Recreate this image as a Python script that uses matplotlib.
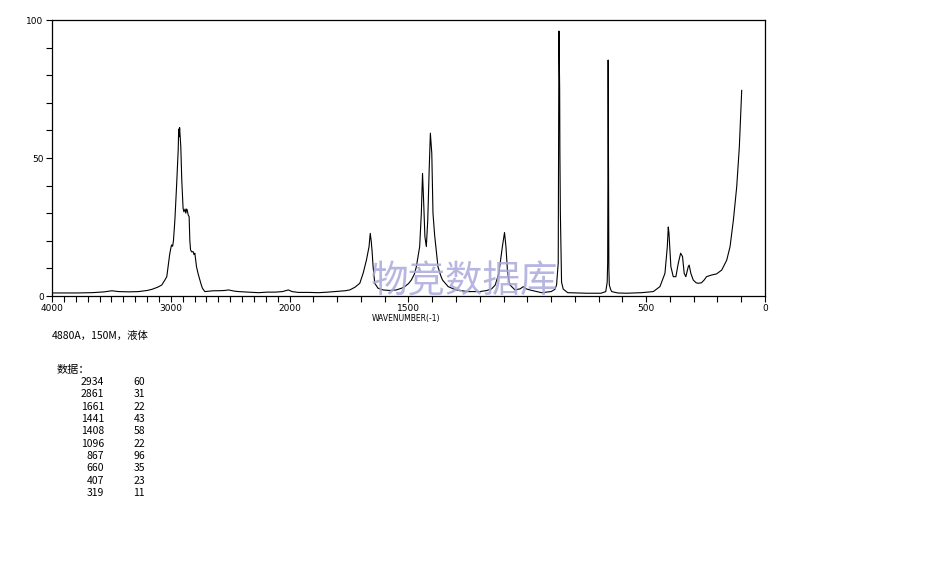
import numpy as np
import matplotlib
matplotlib.use('Agg')
import matplotlib.pyplot as plt
from matplotlib.ticker import FixedLocator, NullFormatter

plt.rcParams['font.family'] = ['Noto Sans CJK SC', 'DejaVu Sans']

# spectrum trace (wavenumber, intensity)
wavenumber = [4000, 3800, 3664, 3560, 3496, 3440, 3350, 3272, 3200, 3160, 3110, 3076, 3050, 3034,
              3023, 3010, 3003, 2994, 2985, 2978, 2966, 2952, 2938, 2934, 2930, 2926, 2922, 2916,
              2908, 2897, 2890, 2880, 2874, 2867, 2861, 2855, 2846, 2840, 2834, 2825, 2813, 2805,
              2798, 2790, 2784, 2770, 2756, 2745, 2734, 2714, 2690, 2640, 2599, 2546, 2515, 2470,
              2431, 2350, 2263, 2190, 2123, 2060, 2011, 1990, 1963, 1920, 1879, 1840, 1809, 1767,
              1747, 1725, 1705, 1691, 1677, 1666, 1661, 1657, 1653, 1649, 1642, 1628, 1607, 1580,
              1551, 1530, 1516, 1500, 1488, 1475, 1467, 1453, 1446, 1441, 1436, 1431, 1425, 1419,
              1413, 1408, 1402, 1397, 1390, 1385, 1376, 1365, 1357, 1333, 1300, 1250, 1200, 1170,
              1150, 1135, 1120, 1105, 1096, 1090, 1083, 1073, 1052, 1030, 1017, 1005, 990, 940,
              900, 884, 877, 870, 867, 864, 863, 861, 856, 849, 830, 750, 690, 670, 664, 662, 661,
              660, 659, 658.5, 657, 655, 650, 645, 620, 583, 520, 470, 442, 421, 411, 407, 404,
              396, 386, 375, 365, 355, 347, 340, 333, 323, 319, 312, 302, 290, 281, 267, 256, 246,
              225, 204, 182, 161, 147, 133, 119, 108, 98]
intensity = [1.1, 1.1, 1.2, 1.5, 1.9, 1.6, 1.5, 1.6, 2.0, 2.4, 3.2, 4.0, 5.8, 7.0,
             10.6, 15.0, 16.7, 18.5, 18.0, 20.0, 27.5, 39.6, 52.9, 60.5, 57.7, 61.0, 58.0, 54.0,
             42.0, 31.8, 30.5, 31.5, 30.0, 31.5, 31.0, 29.5, 28.7, 20.0, 16.7, 16.0, 16.1, 15.0,
             15.5, 12.5, 10.6, 8.0, 5.8, 4.2, 2.8, 1.6, 1.7, 1.9, 1.9, 2.0, 2.2, 1.8,
             1.6, 1.4, 1.2, 1.4, 1.4, 1.6, 2.2, 1.6, 1.3, 1.3, 1.2, 1.4, 1.6, 1.9,
             2.2, 3.2, 4.6, 8.2, 13.0, 17.9, 22.7, 20.0, 16.0, 10.6, 4.6, 2.8, 2.2, 2.0,
             2.2, 2.8, 3.4, 4.5, 5.8, 8.0, 10.6, 17.9, 30.0, 44.4, 33.6, 21.5, 17.9, 27.5,
             45.7, 59.0, 51.7, 30.0, 22.0, 17.9, 10.6, 7.5, 5.8, 3.4, 2.2, 1.6, 1.6, 2.0,
             2.6, 4.0, 8.2, 17.9, 23.0, 17.9, 8.2, 4.0, 2.2, 2.6, 3.4, 2.6, 2.2, 1.2,
             1.6, 2.4, 4.0, 12.0, 96.0, 75.0, 52.0, 30.0, 5.0, 2.5, 1.2, 1.0, 1.0, 1.6, 5.0, 12.0, 40.0,
             85.5, 60.0, 42.0, 10.0, 4.0, 2.5, 1.6, 1.1, 1.0, 1.2, 1.6, 3.4, 8.2, 17.9, 25.0, 22.7,
             10.6, 7.0, 7.0, 11.8, 15.5, 14.3, 8.2, 7.0, 10.6, 11.2, 8.2, 5.8, 4.8, 4.6, 4.8, 5.8, 7.0,
             7.6, 8.0, 9.4, 13.0, 17.9, 27.5, 39.6, 54.0, 74.5]

# peak table
peak_wn = [2934, 2861, 1661, 1441, 1408, 1096, 867, 660, 407, 319]
peak_int = [60, 31, 22, 43, 58, 22, 96, 35, 23, 11]

x_major = [4000, 3000, 2000, 1500, 500, 0]
y_major = [0, 50, 100]


# 4000-2000 compressed to half the width of 2000-0
def fwd(x):
    x = np.asarray(x, dtype=float)
    return np.where(x <= 2000, x / 1000.0, 2 + (x - 2000) / 2000.0)


def inv(u):
    u = np.asarray(u, dtype=float)
    return np.where(u <= 2, u * 1000.0, 2000 + (u - 2) * 2000.0)


fig = plt.figure(figsize=(9.29, 5.63), dpi=100)
ax = fig.add_axes([52 / 929, 1 - 296 / 563, (765 - 52) / 929, (296 - 20) / 563])
ax.set_xscale('function', functions=(fwd, inv))
ax.plot(wavenumber, intensity, color='black', lw=0.8)
ax.set_xlim(4000, 0)
ax.set_ylim(0, 100)

for s in ax.spines.values():
    s.set_linewidth(0.9)

ax.xaxis.set_major_locator(FixedLocator(x_major))
ax.xaxis.set_minor_locator(FixedLocator(list(range(0, 4001, 100))))
ax.yaxis.set_major_locator(FixedLocator(y_major))
ax.yaxis.set_minor_locator(FixedLocator(list(range(0, 101, 10))))
ax.xaxis.set_minor_formatter(NullFormatter())
ax.set_xticklabels([str(v) for v in x_major])
ax.set_yticklabels([str(v) for v in y_major])
ax.tick_params(which='both', direction='out', length=4, width=0.8, labelsize=6.5,
               top=False, right=False, pad=2)
for lab in ax.get_xticklabels() + ax.get_yticklabels():
    lab.set_family('DejaVu Sans')

fig.text(372 / 929, 1 - 318 / 563, 'WAVENUMBER(-1)', fontsize=5.5, family='DejaVu Sans',
         ha='left', va='center')

# watermark
fig.text(465 / 929, 1 - 282 / 563, '物竞数据库', fontsize=27, color='#a9a9dc', alpha=0.85,
         ha='center', va='center', zorder=5)

fig.text(52 / 929, 1 - 336 / 563, '4880A，150M，液体', fontsize=7.5, ha='left', va='center')
fig.text(57 / 929, 1 - 370 / 563, '数据：', fontsize=8, ha='left', va='center')
for i, (w, v) in enumerate(zip(peak_wn, peak_int)):
    yy = 1 - (382 + i * 12.35) / 563
    fig.text(104 / 929, yy, str(w), fontsize=7.5, ha='right', va='center')
    fig.text(145 / 929, yy, str(v), fontsize=7.5, ha='right', va='center')

fig.savefig('out.png', dpi=100)
